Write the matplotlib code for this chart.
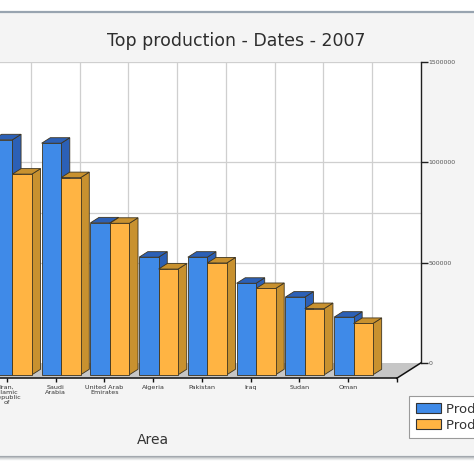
import matplotlib
matplotlib.use('Agg')
import matplotlib.pyplot as plt
from matplotlib.patches import Rectangle, Polygon, Patch
from matplotlib.lines import Line2D

# ---------------- data ----------------
categories = ["Iran,\nIslamic\nRepublic\nof", "Saudi\nArabia", "United Arab\nEmirates",
              "Algeria", "Pakistan", "Iraq", "Sudan", "Oman"]
series_names = ["Production (Int $1000)", "Production (MT)"]
blue_values = [1171000, 1154000, 757000, 586000, 586000, 456000, 387000, 287000]
orange_values = [1000000, 982546, 755000, 526921, 557279, 430000, 330000, 255871]
value_ticks = [0, 500000, 1000000, 1500000]
value_tick_labels = ["0", "500000", "1000000", "1500000"]
grid_values = [500000, 750000, 1000000, 1500000]
title = "Top production - Dates - 2007"
x_label = "Area"

# ---------------- geometry (pixels) ----------------
W = H = 474
X0 = 6.9          # pixel x of first category on the floor front
STEP = 48.73      # pixel width of one category
FLOOR_Y = 378.3   # pixel y (from top) of floor front edge
PLOT_H = 301.0    # pixel height for the value range
VMAX = 1500000
DEPTH_X, DEPTH_Y = 24.0, 15.3
T0, TB = 0.23, 0.36   # bar front depth / bar depth (fraction of floor depth)
XMIN, XMAX = -1, len(categories)

fig = plt.figure(figsize=(4.74, 4.74), dpi=100)
fig.patch.set_facecolor('white')

# chart panel
fig.patches.append(Rectangle((-0.1, 1 - 455 / H), 1.2, (455 - 12) / H, transform=fig.transFigure,
                             facecolor='#f4f4f4', edgecolor='none', lw=0, zorder=0))
fig.lines.append(Line2D([0, 1], [1 - 12 / H, 1 - 12 / H], transform=fig.transFigure,
                        color='#98a4b0', lw=1.6, zorder=1))
for k, c in enumerate(['#9ea4aa', '#b8bcc0', '#d4d6d8', '#eaebec']):
    yy = 1 - (455.5 + k) / H
    fig.lines.append(Line2D([0, 1], [yy, yy], transform=fig.transFigure, color=c, lw=1.0, zorder=1))

ax_left = X0 + XMIN * STEP
ax_right = X0 + XMAX * STEP
ax_w = (ax_right - ax_left) / W

# back wall axes
axb = fig.add_axes([(ax_left + DEPTH_X) / W, 1 - (FLOOR_Y - DEPTH_Y) / H, ax_w, PLOT_H / H])
axb.set_xlim(XMIN, XMAX)
axb.set_ylim(0, VMAX)
axb.patch.set_facecolor('white')
for s in ['top', 'left', 'bottom']:
    axb.spines[s].set_visible(False)
axb.spines['right'].set_color('#202020')
axb.spines['right'].set_linewidth(1.0)
axb.set_xticks([])
axb.yaxis.tick_right()
axb.set_yticks(value_ticks)
axb.set_yticklabels(value_tick_labels)
axb.tick_params(axis='y', direction='out', length=5, width=1.0, color='#202020',
                labelsize=4.5, labelcolor='#555555', pad=0.5)
for gv in grid_values:
    axb.axhline(gv, color='#cfcfcf', lw=0.9, zorder=1)
for i in range(len(categories)):
    axb.axvline(i, color='#cfcfcf', lw=0.9, zorder=1)
axb.set_zorder(1)

# front axes
ax = fig.add_axes([ax_left / W, 1 - FLOOR_Y / H, ax_w, PLOT_H / H])
ax.set_xlim(XMIN, XMAX)
ax.set_ylim(0, VMAX)
ax.patch.set_visible(False)
ax.set_zorder(2)
for s in ['top', 'left', 'right']:
    ax.spines[s].set_visible(False)
ax.spines['bottom'].set_color('#101010')
ax.spines['bottom'].set_linewidth(1.1)
ax.set_yticks([])
ax.set_xticks(range(0, len(categories) + 1))
ax.set_xticklabels(categories + [""])
ax.tick_params(axis='x', direction='out', length=3, width=1.0, color='#101010',
               labelsize=4.6, labelcolor='#333333', pad=1.5)
for lab in ax.get_xticklabels():
    lab.set_linespacing(1.05)

dxu = DEPTH_X / STEP
dyu = DEPTH_Y * VMAX / PLOT_H

# floor
floor = Polygon([(XMIN, 0), (XMAX, 0), (XMAX + dxu, dyu), (XMIN + dxu, dyu)],
                closed=True, facecolor='#c6c6c6', edgecolor='none', clip_on=False, zorder=1)
ax.add_patch(floor)
ax.plot([XMAX, XMAX + dxu], [0, dyu], color='#101010', lw=1.1, clip_on=False, zorder=1.5)

colors = [('#3f8ae8', '#2c60b6'), ('#ffb443', '#c8912f')]
edge = '#3d3420'
bw = 0.4
z = 3
for i in range(len(categories)):
    for j, vals in enumerate([blue_values, orange_values]):
        val = vals[i]
        front_c, dark_c = colors[j]
        x0 = i - bw + bw * j + T0 * dxu
        y0 = T0 * dyu
        x1 = x0 + bw
        top = y0 + val
        ox, oy = TB * dxu, TB * dyu
        side = Polygon([(x1, y0), (x1 + ox, y0 + oy), (x1 + ox, top + oy), (x1, top)],
                       closed=True, facecolor=dark_c, edgecolor=edge, lw=0.6,
                       clip_on=False, zorder=z)
        topf = Polygon([(x0, top), (x1, top), (x1 + ox, top + oy), (x0 + ox, top + oy)],
                       closed=True, facecolor=dark_c, edgecolor=edge, lw=0.6,
                       clip_on=False, zorder=z)
        ax.add_patch(side)
        ax.add_patch(topf)
        ax.bar(x0, val, width=bw, bottom=y0, align='edge', color=front_c,
               edgecolor=edge, linewidth=0.6, clip_on=False, zorder=z + 0.5)
        z += 1

# title and axis label
fig.text(236 / W, 1 - 41.5 / H, title, ha='center', va='center', fontsize=12.5, color='#2e2e2e')
fig.text(153 / W, 1 - 440 / H, x_label, ha='center', va='center', fontsize=10, color='#333333')

# legend
handles = [Patch(facecolor=colors[0][0], edgecolor='#333333', lw=0.8),
           Patch(facecolor=colors[1][0], edgecolor='#333333', lw=0.8)]
leg = fig.legend(handles, series_names, loc='upper left',
                 bbox_to_anchor=(409 / W, 1 - 396 / H), bbox_transform=fig.transFigure,
                 fontsize=9.5, frameon=True, fancybox=False, edgecolor='#9a9a9a',
                 facecolor='white', framealpha=1, borderpad=0.5, borderaxespad=0,
                 handlelength=1.9, handleheight=0.75, handletextpad=0.4,
                 labelspacing=0.25)
leg.get_frame().set_linewidth(0.8)
for t in leg.get_texts():
    t.set_color('#333333')

fig.savefig('out.png', dpi=100)
